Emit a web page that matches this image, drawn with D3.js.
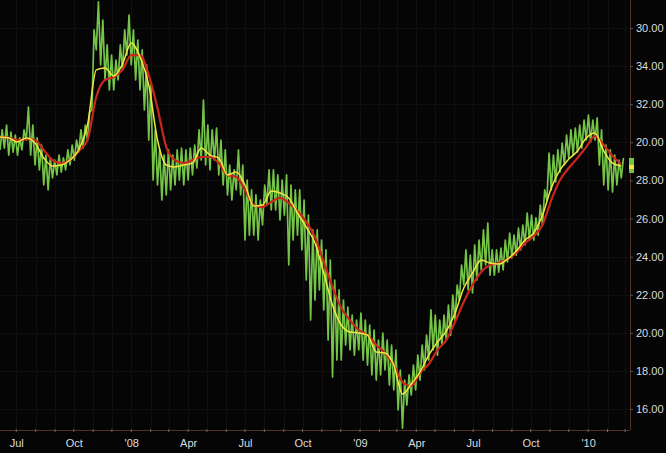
<!DOCTYPE html>
<html><head><meta charset="utf-8">
<script src="https://cdn.jsdelivr.net/npm/d3@7"></script>
<style>html,body{margin:0;padding:0;background:#050505;} svg{display:block}</style>
</head><body><svg id="c" width="666" height="453"></svg>
<script>
// ---- data ----
const startDate = "2007-06-05";   // first weekly sample
const weeklyHigh = [
30.65,30.91,30.54,30.38,30.23,30.65,31.85,30.91,30.23,29.86,
29.33,29.18,29.07,29.33,29.18,29.60,29.86,30.12,30.65,30.91,
31.59,35.90,37.37,36.42,35.11,34.58,34.32,35.11,35.90,36.68,
35.90,35.37,34.85,34.06,33.01,30.65,29.60,29.33,29.60,29.33,
29.60,29.70,29.60,29.70,29.86,30.65,32.22,30.91,30.65,30.75,
30.12,29.60,28.81,28.55,29.60,28.81,28.02,27.50,27.24,26.97,
27.76,28.55,28.55,28.29,28.02,28.29,27.76,27.50,27.50,26.97,
26.18,25.40,25.40,24.87,24.35,23.82,22.77,22.25,21.72,21.35,
20.93,20.67,21.04,20.67,20.41,20.15,19.62,19.99,19.62,19.36,
19.10,18.05,17.52,17.79,18.31,18.83,19.36,19.88,21.20,20.93,
20.67,20.93,21.46,21.98,22.51,23.56,24.35,24.08,24.61,24.87,
25.40,25.76,24.35,24.35,24.45,24.87,25.24,25.13,25.50,25.66,
26.29,26.18,26.03,26.71,27.50,29.44,29.33,29.60,29.96,30.38,
30.65,30.75,30.91,31.17,31.43,31.17,31.28,30.65,29.86,29.60,
29.33,29.07,29.18];
const weeklyLow = [
29.60,29.70,29.33,29.49,29.33,29.60,30.12,29.33,28.81,28.55,
27.76,27.50,28.13,28.29,28.44,28.55,28.81,29.07,29.49,29.70,
30.12,31.70,34.85,34.06,33.27,32.75,32.75,33.27,33.80,34.58,
34.06,33.27,32.75,31.70,30.12,28.02,27.76,26.97,27.24,27.50,
27.76,28.02,27.76,28.02,28.29,28.65,29.07,28.81,28.55,29.07,
28.29,27.76,27.24,26.97,27.50,27.24,24.87,25.13,25.13,24.87,
25.66,26.71,26.45,26.45,25.92,26.18,23.56,24.87,25.13,24.35,
22.77,20.67,21.72,22.25,21.20,19.62,17.68,18.57,18.57,19.36,
19.10,18.83,19.10,18.57,18.31,17.79,17.52,17.79,18.05,17.26,
17.00,15.95,15.00,16.21,16.74,17.00,17.52,18.05,18.57,19.10,
18.83,19.36,19.62,19.88,20.67,21.72,22.51,22.25,22.09,22.77,
23.30,23.56,23.03,23.03,23.19,23.30,23.72,23.93,24.08,24.35,
24.61,24.87,24.87,25.13,25.66,26.97,27.50,27.92,28.44,28.81,
29.18,29.33,29.49,29.70,30.12,30.02,30.12,28.81,27.76,27.50,
27.39,27.76,28.13];
// bi-weekly moving averages
const maYellow = [
30.28,30.23,30.02,30.23,29.96,29.18,28.76,28.81,29.07,29.60,
30.91,33.80,33.90,33.48,34.11,35.21,34.48,33.01,30.12,28.81,
28.71,28.81,28.91,29.70,29.33,29.18,28.29,28.44,27.76,26.66,
26.71,27.44,27.34,27.08,26.29,25.55,24.71,23.14,21.46,20.41,
20.04,19.99,19.88,18.99,18.94,18.31,16.79,17.31,17.94,18.83,
19.52,20.09,21.04,22.35,23.14,23.82,23.66,23.61,23.87,24.29,
24.87,25.24,26.18,27.60,28.55,29.12,29.54,30.23,30.49,29.54,
28.91,28.76];
const maRed = [
30.28,30.23,30.12,30.17,30.12,29.60,29.07,28.91,29.07,29.54,
30.12,32.38,33.27,33.43,33.80,34.58,34.58,33.53,31.80,29.75,
29.07,28.91,29.07,29.23,29.23,28.91,28.29,28.18,27.50,26.71,
26.60,26.87,27.08,26.81,26.39,25.82,25.03,23.72,22.41,21.30,
20.67,20.15,19.88,19.36,18.94,18.31,17.42,17.21,17.89,18.36,
19.10,19.62,20.57,21.62,22.51,23.19,23.56,23.66,23.87,24.19,
24.71,25.08,25.66,26.97,28.02,28.65,29.18,29.75,30.33,29.86,
29.28,28.86];
const yTicks = [36,34,32,30,28,26,24,22,20,18,16];
const yTickLabels = ["30.00","34.00","32.00","20.00","28.00","26.00","24.00","22.00","20.00","18.00","16.00"];
const xTickDates = ["2007-07-01","2007-10-01","2008-01-01","2008-04-01","2008-07-01","2008-10-01","2009-01-01","2009-04-01","2009-07-01","2009-10-01","2010-01-01"];
const xTickLabels = ["Jul","Oct","'08","Apr","Jul","Oct","'09","Apr","Jul","Oct","'10"];

// ---- layout ----
const plotR = 630, plotB = 430;
const parse = d3.utcParse("%Y-%m-%d");
const t0 = parse(startDate);
const DAY = 864e5;
const x = d3.scaleUtc().domain([parse("2007-06-05"), parse("2010-03-09")]).range([0, plotR]);
const y = d3.scaleLinear().domain([14.9, 37.47]).range([plotB, 0]);

const svg = d3.select("#c");
svg.append("rect").attr("width",666).attr("height",453).attr("fill","#050505");
svg.append("clipPath").attr("id","clip").append("rect").attr("width",plotR).attr("height",plotB);

// grid
const months = d3.utcMonth.range(x.domain()[0], x.domain()[1]);
svg.append("g").selectAll("line").data(months).join("line")
  .attr("x1",d=>Math.round(x(d))+0.5).attr("x2",d=>Math.round(x(d))+0.5)
  .attr("y1",0).attr("y2",plotB).attr("stroke","#0f0f0f").attr("stroke-width",1);
svg.append("g").selectAll("line").data(yTicks).join("line")
  .attr("x1",0).attr("x2",plotR).attr("y1",d=>Math.round(y(d))+0.5).attr("y2",d=>Math.round(y(d))+0.5)
  .attr("stroke","#0e0e0e").attr("stroke-width",1);

// price series (weekly low / high alternation)
const pricePts = [];
weeklyLow.forEach((lo,i)=>{
  pricePts.push([new Date(t0.getTime()+7*i*DAY), lo]);
  pricePts.push([new Date(t0.getTime()+(7*i+3.5)*DAY), weeklyHigh[i]]);
});
const maDates = maYellow.map((_,j)=>new Date(t0.getTime()+14*j*DAY));

const g = svg.append("g").attr("clip-path","url(#clip)");
g.append("path").datum(pricePts)
  .attr("d", d3.line().x(d=>x(d[0])).y(d=>y(d[1])))
  .attr("fill","none").attr("stroke","#74c448").attr("stroke-width",1.7).attr("stroke-linejoin","round");
g.append("path").datum(maRed)
  .attr("d", d3.line().curve(d3.curveMonotoneX).x((d,j)=>x(maDates[j])).y(d=>y(d)))
  .attr("fill","none").attr("stroke","#c9271c").attr("stroke-width",2.2);
g.append("path").datum(maYellow)
  .attr("d", d3.line().curve(d3.curveMonotoneX).x((d,j)=>x(maDates[j])).y(d=>y(d)))
  .attr("fill","none").attr("stroke","#f2e640").attr("stroke-width",1.5);

// axes lines
svg.append("line").attr("x1",plotR+0.5).attr("x2",plotR+0.5).attr("y1",0).attr("y2",plotB)
  .attr("stroke","#553026").attr("stroke-width",1);
svg.append("line").attr("x1",0).attr("x2",plotR).attr("y1",plotB+0.5).attr("y2",plotB+0.5)
  .attr("stroke","#553026").attr("stroke-width",1);

// right axis
const ya = svg.append("g").attr("transform",`translate(${plotR},0)`)
  .call(d3.axisRight(y).tickValues(yTicks).tickSize(3).tickPadding(3)
    .tickFormat((d,i)=>yTickLabels[i]));
ya.select(".domain").remove();
ya.selectAll("line").attr("stroke","#555");
ya.selectAll("text").attr("fill","#dcdcdc").style("font-family","'Liberation Sans', Arial, sans-serif").style("font-size","11px");

// bottom axis (monthly minor ticks + quarterly labels)
svg.append("g").selectAll("line").data(months).join("line")
  .attr("x1",d=>x(d)).attr("x2",d=>x(d)).attr("y1",plotB-1).attr("y2",plotB+2)
  .attr("stroke","#666").attr("stroke-width",1);
const xa = svg.append("g").attr("transform",`translate(0,${plotB})`)
  .call(d3.axisBottom(x).tickValues(xTickDates.map(parse)).tickSize(0).tickPadding(9)
    .tickFormat((d,i)=>xTickLabels[i]));
xa.select(".domain").remove();
xa.selectAll("text").attr("fill","#dcdcdc").style("font-family","'Liberation Sans', Arial, sans-serif").style("font-size","11px");

// last-value marker on the price axis
const lastHi = weeklyHigh[weeklyHigh.length-1], lastLo = weeklyLow[weeklyLow.length-1];
const lastY = maYellow[maYellow.length-1];
svg.append("rect").attr("x",plotR-1).attr("y",y(lastHi)).attr("width",5).attr("height",y(lastLo)-y(lastHi)-5)
  .attr("fill","#74c448");
svg.append("rect").attr("x",plotR-1).attr("y",y(lastY)-1).attr("width",5).attr("height",4)
  .attr("fill","#f2e640");
</script></body></html>
